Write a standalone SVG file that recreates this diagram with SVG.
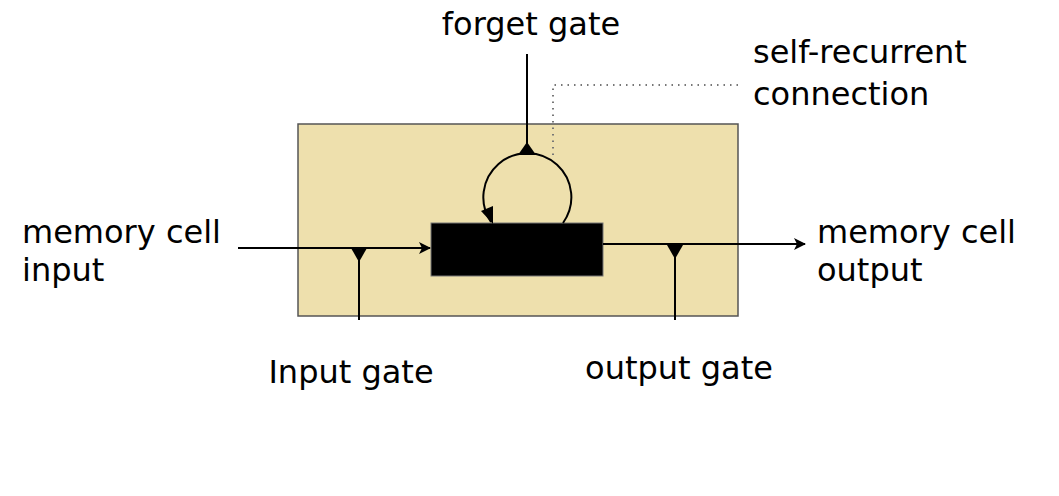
<svg xmlns="http://www.w3.org/2000/svg" width="1059" height="496" viewBox="0 0 1059 496">
<style>
text{font-family:"DejaVu Sans",sans-serif;font-size:32px;fill:#000}
.l{stroke:#000;stroke-width:2;fill:none}
</style>
<defs>
<marker id="a" markerWidth="12" markerHeight="12" refX="11" refY="6" orient="auto" markerUnits="userSpaceOnUse" viewBox="0 0 12 12"><path d="M0,0L12,6L0,12L3,6z" fill="#000"/></marker>
</defs>
<rect width="1059" height="496" fill="#fff"/>
<g id="cell"><rect x="298" y="124" width="440" height="192" fill="#eee0ad" stroke="#555" stroke-width="1.5"/></g>
<g id="core"><rect x="431" y="223" width="172" height="53" fill="#000" stroke="#777"/></g>
<g id="connectors">
<line class="l" x1="238" y1="248" x2="430" y2="248" marker-end="url(#a)"/>
<line class="l" x1="603" y1="244" x2="805" y2="244" marker-end="url(#a)"/>
<line class="l" x1="527" y1="54" x2="527" y2="153"/>
<path class="l" d="M563,223 A44,44 0 1 0 491,222" stroke-width="1.5"/>
<path d="M481,211 L493,224 L493,206z" fill="#000"/>
<path d="M518,155 L536,155 L527,142z" fill="#000"/>
<line class="l" x1="359" y1="248" x2="359" y2="320"/>
<path d="M351,248 L367,248 L359,262z" fill="#000"/>
<line class="l" x1="675" y1="244" x2="675" y2="320"/>
<path d="M667,245 L683,245 L675,259z" fill="#000"/>
<path d="M553,155 L553,85 L740,85" stroke="#777" stroke-width="2" stroke-dasharray="1.5,5" fill="none"/>
</g>
<g id="labels">
<text x="531" y="35" text-anchor="middle">forget gate</text>
<text x="753" y="63">self-recurrent</text>
<text x="753" y="105">connection</text>
<text x="22" y="243">memory cell</text>
<text x="22" y="281">input</text>
<text x="817" y="243">memory cell</text>
<text x="817" y="281">output</text>
<text x="351" y="383" text-anchor="middle">Input gate</text>
<text x="679" y="379" text-anchor="middle">output gate</text>
</g>
</svg>
